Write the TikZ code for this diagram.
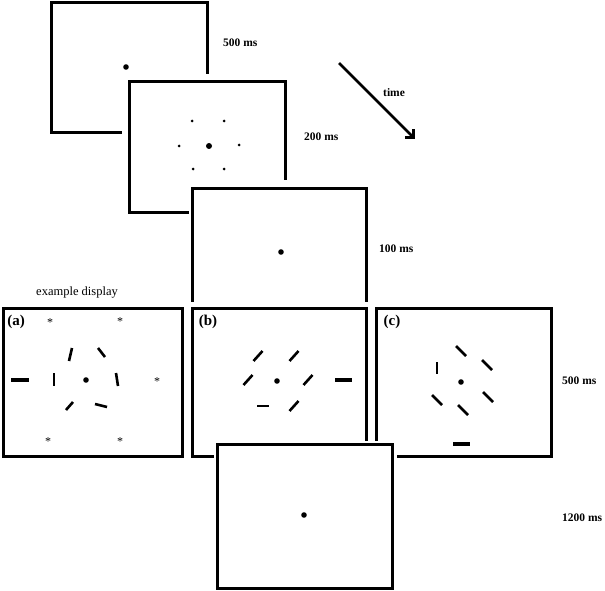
\documentclass[tikz,border=0pt]{standalone}
\usepackage{fontspec}
\setmainfont{Liberation Serif}
\usetikzlibrary{arrows.meta}
\begin{document}
\begin{tikzpicture}[x=1pt,y=-1pt,
  frame/.style={line width=3pt,line cap=rect},
  lab/.style={font=\bfseries\fontsize{11.5}{12}\selectfont,anchor=west,inner sep=0},
  plab/.style={font=\bfseries\fontsize{15}{16}\selectfont,inner sep=0},
  bar/.style={line width=2.6pt},
  tbar/.style={line width=3.8pt},
  dot/.style={fill=black}]
\useasboundingbox (0,0) rectangle (605,591);
% box1
\draw[frame] (120,133) -- (51,133) -- (51,3) -- (207,3) -- (207,73);
\fill[dot] (126,67) circle (2.8);
% box2
\draw[frame] (187,212) -- (129,212) -- (129,82) -- (285,82) -- (285,178);
\fill[dot] (209,146) circle (3);
\foreach \p in {(192,121),(224,121),(179,146),(239,145),(193,169),(224,169)} \fill[dot] \p circle (1.5);
% box3
\draw[frame] (192,300) -- (192,188) -- (366,188) -- (366,300);
\fill[dot] (281,252) circle (2.8);
% (a)
\draw[frame] (3,308) rectangle (182,456);
\node[plab] (la) at (16,322) {(a)};
\foreach \p in {(50,323),(120,322),(157,382),(48,442),(120,442)} \node[inner sep=0,font=\fontsize{12}{12}\selectfont] at \p {*};
\fill[dot] (86,380) circle (2.8);
\draw[tbar] (11,380) -- (29,380);
\draw[bar] (54,373) -- (54,386);
\draw[bar] (69,361) -- (72,348);
\draw[bar] (98,348) -- (105,357);
\draw[bar] (116,373) -- (118,386);
\draw[bar] (66,410) -- (73,402);
\draw[bar] (95,404) -- (107,407);
% (b)
\draw[frame] (212,456) -- (192,456) -- (192,308) -- (366,308) -- (366,439);
\node[plab] (lb) at (208,322) {(b)};
\fill[dot] (277,381) circle (2.8);
\foreach \c in {(258,356),(294,356),(248,380),(308,380),(294,406)} \draw[bar] \c ++(-4.5,5) -- ++(9,-10);
\draw[bar] (257,406) -- (269,406);
\draw[tbar] (335,380) -- (352,380);
% (c)
\draw[frame] (376,439) -- (376,308) -- (551,308) -- (551,456) -- (398,456);
\node[plab] (lc) at (392,322) {(c)};
\fill[dot] (461,382) circle (2.8);
\draw[bar] (437,362) -- (437,374);
\foreach \c in {(461,351),(487,365),(437,400),(488,397),(463,410)} \draw[bar] \c ++(-5,-5) -- ++(10,10);
\draw[tbar] (453,444) -- (470,444);
% bottom box
\draw[frame] (217,444) rectangle (392,588);
\fill[dot] (304,515) circle (2.8);
% labels
\node[lab] (t1) at (223,43) {500 ms};
\node[lab] (t2) at (304,137) {200 ms};
\node[lab] (t3) at (379,249) {100 ms};
\node[lab] (t4) at (562,381) {500 ms};
\node[lab] (t5) at (562,518) {1200 ms};
\node[font=\fontsize{12.5}{13}\selectfont,inner sep=0] (ex) at (77,293) {example display};
\node[lab] (time) at (383,93) {time};
\coordinate (ta) at (339,63);
\coordinate (tb) at (415,139);
\draw[line width=2.6pt,-{Straight Barb[length=6pt]}] (ta) -- (tb);
\end{tikzpicture}
\end{document}
